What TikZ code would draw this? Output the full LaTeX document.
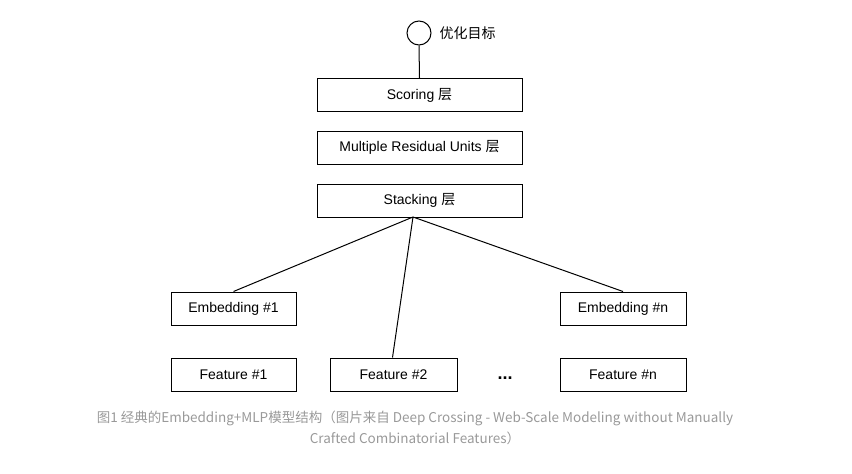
\documentclass[tikz,border=0pt]{standalone}
\usepackage{fontspec}
\setmainfont{Liberation Sans}
\newfontfamily\cjk{Noto Sans CJK SC}
\begin{document}
\begin{tikzpicture}[x=1pt,y=-1pt,
  box/.style={draw,line width=1pt,minimum height=33pt,inner sep=0pt,font=\fontsize{14}{16}\selectfont},
  ln/.style={line width=1pt}]
\useasboundingbox (0,0) rectangle (852,474);
\node[draw,line width=1pt,circle,minimum size=24pt,inner sep=0pt] (c) at (419,33) {};
\node[anchor=west,font=\cjk\fontsize{14}{16}\selectfont] (goal) at (436,33) {优化目标};
\node[box,minimum width=205pt] (sc) at (419.5,95) {Scoring {\cjk 层}};
\node[box,minimum width=205pt] (mr) at (419.5,147.5) {Multiple Residual Units {\cjk 层}};
\node[box,minimum width=205pt] (st) at (419.5,200.5) {Stacking {\cjk 层}};
\node[box,minimum width=125pt] (e1) at (233.5,308.5) {Embedding \#1};
\node[box,minimum width=126pt] (en) at (623,308.5) {Embedding \#n};
\node[box,minimum width=125pt] (f1) at (233.5,374.5) {Feature \#1};
\node[box,minimum width=127pt] (f2) at (393.5,374.5) {Feature \#2};
\node[box,minimum width=126pt] (fn) at (623,374.5) {Feature \#n};
\node[font=\fontsize{18}{18}\selectfont\bfseries] (dots) at (505,378) {...};
\coordinate (sb) at (413,217);
\draw[ln] (c.south) -- (sc.north);
\draw[ln] (sb) -- (e1.north);
\draw[ln] (sb) -- ([xshift=-1pt]f2.north);
\draw[ln] (sb) -- (en.north);
\node[font=\cjk\fontsize{13.5}{21}\selectfont,text=black!40,align=center] (cap) at (415,427.5)
 {图1 经典的Embedding+MLP模型结构（图片来自 Deep Crossing - Web-Scale Modeling without Manually\\Crafted Combinatorial Features）};
\end{tikzpicture}
\end{document}
